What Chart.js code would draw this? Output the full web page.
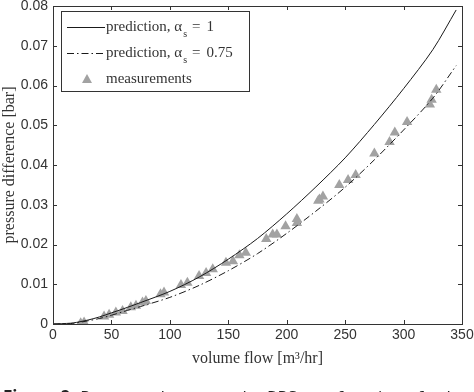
<!DOCTYPE html>
<html lang="en">
<head>
    <meta charset="UTF-8">
    <title>Pressure drop over the RPS</title>
    <style>
        html, body {
            margin: 0;
            padding: 0;
            background: #fff;
            overflow: hidden;
        }
        .wrap {
            position: relative;
            width: 474px;
            height: 392px;
            overflow: hidden;
        }
        canvas {
            position: absolute;
            left: 0;
            top: 0;
        }
        .caption {
            position: absolute;
            left: 3px;
            top: 387px;
            white-space: nowrap;
            font-family: "Open Sans", sans-serif;
            font-size: 17px;
            line-height: 20px;
            color: #222;
        }
        .caption b {
            font-weight: 700;
            margin-right: 10px;
        }
    </style>
    <script src="https://cdn.jsdelivr.net/npm/chart.js@4.4.1/dist/chart.umd.min.js"></script>
</head>
<body>
    <div class="wrap">
        <canvas id="chart" width="474" height="392"></canvas>
        <div class="caption"><b>Figure 9</b>Pressure drop over the RPS as a function of volume</div>
    </div>

    <script>
        // prediction, alpha_s = 1 (solid line)
        const flowA = [0, 15, 20, 30, 40, 50, 60, 75, 100, 125, 150, 175, 200, 225, 250, 275, 300, 325, 345];
        const dpA = [0, 0.0002, 0.0004, 0.001, 0.0018, 0.0028, 0.0038, 0.0054, 0.0082, 0.0118, 0.0163, 0.0215, 0.0277, 0.0345, 0.0418, 0.0502, 0.0592, 0.069, 0.079];

        // prediction, alpha_s = 0.75 (dash-dot line)
        const flowB = [0, 15, 20, 30, 40, 50, 60, 75, 100, 125, 150, 175, 200, 225, 250, 275, 300, 325, 345];
        const dpB = [0, 0.0001, 0.0003, 0.0008, 0.0014, 0.0022, 0.0031, 0.0044, 0.0067, 0.0097, 0.0134, 0.0177, 0.0228, 0.0284, 0.0344, 0.0413, 0.0488, 0.0568, 0.065];

        // measurements (triangles)
        const flowM = [23.7, 26.6, 43.7, 48, 53.8, 59.5, 66.6, 71, 76.6, 79.5, 92, 95, 109.5, 115, 125, 131, 136.7, 148, 154, 159.5,
                       165, 182.5, 188, 191.6, 199, 208.7, 208.7, 227, 228, 231, 245, 252.5, 259, 275, 288, 292.5, 303, 322.5, 324, 328];
        const dpM = [0.0002, 0.0004, 0.0019, 0.0023, 0.0029, 0.0033, 0.0042, 0.0046, 0.0054, 0.0058, 0.0075, 0.0079, 0.0098, 0.0104, 0.0121, 0.0128, 0.0138, 0.0154, 0.0158, 0.0173,
                     0.0179, 0.0214, 0.0225, 0.0225, 0.0246, 0.0254, 0.0264, 0.031, 0.0313, 0.0321, 0.035, 0.0362, 0.0375, 0.0429, 0.0458, 0.0482, 0.0508, 0.0552, 0.0564, 0.0589];

        const xTicks = [0, 50, 100, 150, 200, 250, 300, 350];
        const yTicks = [0, 0.01, 0.02, 0.03, 0.04, 0.05, 0.06, 0.07, 0.08];

        const toPoints = (xs, ys) => xs.map((x, i) => ({ x: x, y: ys[i] }));

        const lineColor = '#1a1a1a';
        const markColor = '#a2a2a2';
        const textColor = '#333';
        const serif = '"Liberation Serif", "Times New Roman", serif';
        const sans = '"Liberation Sans", Arial, sans-serif';

        // box round the axes, with inward ticks on all four sides
        const framePlugin = {
            id: 'frame',
            afterDatasetsDraw(chart) {
                const { ctx, chartArea: a, scales } = chart;
                ctx.save();
                ctx.strokeStyle = '#333';
                ctx.lineWidth = 1;
                ctx.beginPath();
                xTicks.forEach(v => {
                    const px = Math.round(scales.x.getPixelForValue(v)) + 0.5;
                    ctx.moveTo(px, a.bottom); ctx.lineTo(px, a.bottom - 4);
                    ctx.moveTo(px, a.top); ctx.lineTo(px, a.top + 4);
                });
                yTicks.forEach(v => {
                    const py = Math.round(scales.y.getPixelForValue(v)) + 0.5;
                    ctx.moveTo(a.left, py); ctx.lineTo(a.left + 4, py);
                    ctx.moveTo(a.right, py); ctx.lineTo(a.right - 4, py);
                });
                ctx.stroke();
                ctx.strokeRect(Math.round(a.left) + 0.5, Math.round(a.top) + 0.5,
                    Math.round(a.right - a.left), Math.round(a.bottom - a.top));
                ctx.restore();
            }
        };

        // legend box in the top left corner, with the subscript s
        const legendPlugin = {
            id: 'boxLegend',
            afterDraw(chart) {
                const ctx = chart.ctx;
                const left = 61.5, top = 11.5, w = 188, h = 80;
                ctx.save();
                ctx.fillStyle = '#fff';
                ctx.fillRect(left, top, w, h);
                ctx.strokeStyle = '#333';
                ctx.lineWidth = 1;
                ctx.strokeRect(left, top, w, h);

                const rows = [
                    { y: 27, kind: 'solid', main: 'prediction, \u03b1', sub: 's', value: '1' },
                    { y: 53, kind: 'dashdot', main: 'prediction, \u03b1', sub: 's', value: '0.75' },
                    { y: 79, kind: 'marker', main: 'measurements' }
                ];
                rows.forEach(r => {
                    if (r.kind === 'marker') {
                        ctx.fillStyle = markColor;
                        ctx.beginPath();
                        ctx.moveTo(87, r.y - 5);
                        ctx.lineTo(92, r.y + 4);
                        ctx.lineTo(82, r.y + 4);
                        ctx.closePath();
                        ctx.fill();
                    } else {
                        ctx.strokeStyle = lineColor;
                        ctx.lineWidth = 1;
                        ctx.setLineDash(r.kind === 'dashdot' ? [7, 3, 1.5, 3] : []);
                        ctx.beginPath();
                        ctx.moveTo(67, r.y + 0.5);
                        ctx.lineTo(105, r.y + 0.5);
                        ctx.stroke();
                        ctx.setLineDash([]);
                    }
                    ctx.fillStyle = textColor;
                    ctx.textBaseline = 'middle';
                    ctx.textAlign = 'left';
                    ctx.font = '15px ' + serif;
                    let x = 106;
                    ctx.fillText(r.main, x, r.y);
                    x += ctx.measureText(r.main).width;
                    if (r.sub) {
                        ctx.font = '10px ' + serif;
                        ctx.fillText(r.sub, x + 1, r.y + 7);
                        x += ctx.measureText(r.sub).width + 6;
                        ctx.font = '15px ' + serif;
                        ctx.fillText('=', x, r.y);
                        x += ctx.measureText('=').width + 6;
                        ctx.fillText(r.value, x, r.y);
                    }
                });
                ctx.restore();
            }
        };

        new Chart(document.getElementById('chart').getContext('2d'), {
            type: 'scatter',
            data: {
                datasets: [{
                    label: 'prediction, \u03b1s = 1',
                    data: toPoints(flowA, dpA),
                    showLine: true,
                    borderColor: lineColor,
                    borderWidth: 1,
                    pointRadius: 0,
                    tension: 0.3
                }, {
                    label: 'prediction, \u03b1s = 0.75',
                    data: toPoints(flowB, dpB),
                    showLine: true,
                    borderColor: lineColor,
                    borderWidth: 1,
                    borderDash: [7, 3, 1.5, 3],
                    pointRadius: 0,
                    tension: 0.3
                }, {
                    label: 'measurements',
                    data: toPoints(flowM, dpM),
                    showLine: false,
                    pointStyle: 'triangle',
                    pointRadius: 6,
                    backgroundColor: markColor,
                    borderColor: markColor,
                    borderWidth: 0
                }]
            },
            options: {
                responsive: false,
                animation: false,
                layout: { padding: { top: 5, right: 12, left: 0, bottom: 0 } },
                plugins: {
                    legend: { display: false },
                    tooltip: { enabled: false }
                },
                scales: {
                    x: {
                        type: 'linear',
                        min: 0,
                        max: 350,
                        afterBuildTicks: s => { s.ticks = xTicks.map(v => ({ value: v })); },
                        afterFit: s => { s.height = 68; s.paddingLeft = 0; s.paddingRight = 0; },
                        grid: { display: false, drawTicks: false },
                        border: { display: false },
                        ticks: {
                            padding: 3,
                            color: textColor,
                            font: { family: sans, size: 14 },
                            maxRotation: 0,
                            autoSkip: false
                        },
                        title: {
                            display: true,
                            text: 'volume flow [m\u00b3/hr]',
                            color: textColor,
                            font: { family: serif, size: 16 },
                            padding: { top: 0, bottom: 24 }
                        }
                    },
                    y: {
                        type: 'linear',
                        min: 0,
                        max: 0.08,
                        afterBuildTicks: s => { s.ticks = yTicks.map(v => ({ value: v })); },
                        afterFit: s => { s.width = 53; s.paddingTop = 0; s.paddingBottom = 0; },
                        grid: { display: false, drawTicks: false },
                        border: { display: false },
                        ticks: {
                            padding: 5,
                            color: textColor,
                            font: { family: sans, size: 14 },
                            autoSkip: false,
                            callback: v => v === 0 ? '0' : Number(v).toFixed(2)
                        },
                        title: {
                            display: true,
                            text: 'pressure difference [bar]',
                            color: textColor,
                            font: { family: serif, size: 16 },
                            padding: { top: 0, bottom: 0 }
                        }
                    }
                }
            },
            plugins: [framePlugin, legendPlugin]
        });
    </script>
</body>
</html>
